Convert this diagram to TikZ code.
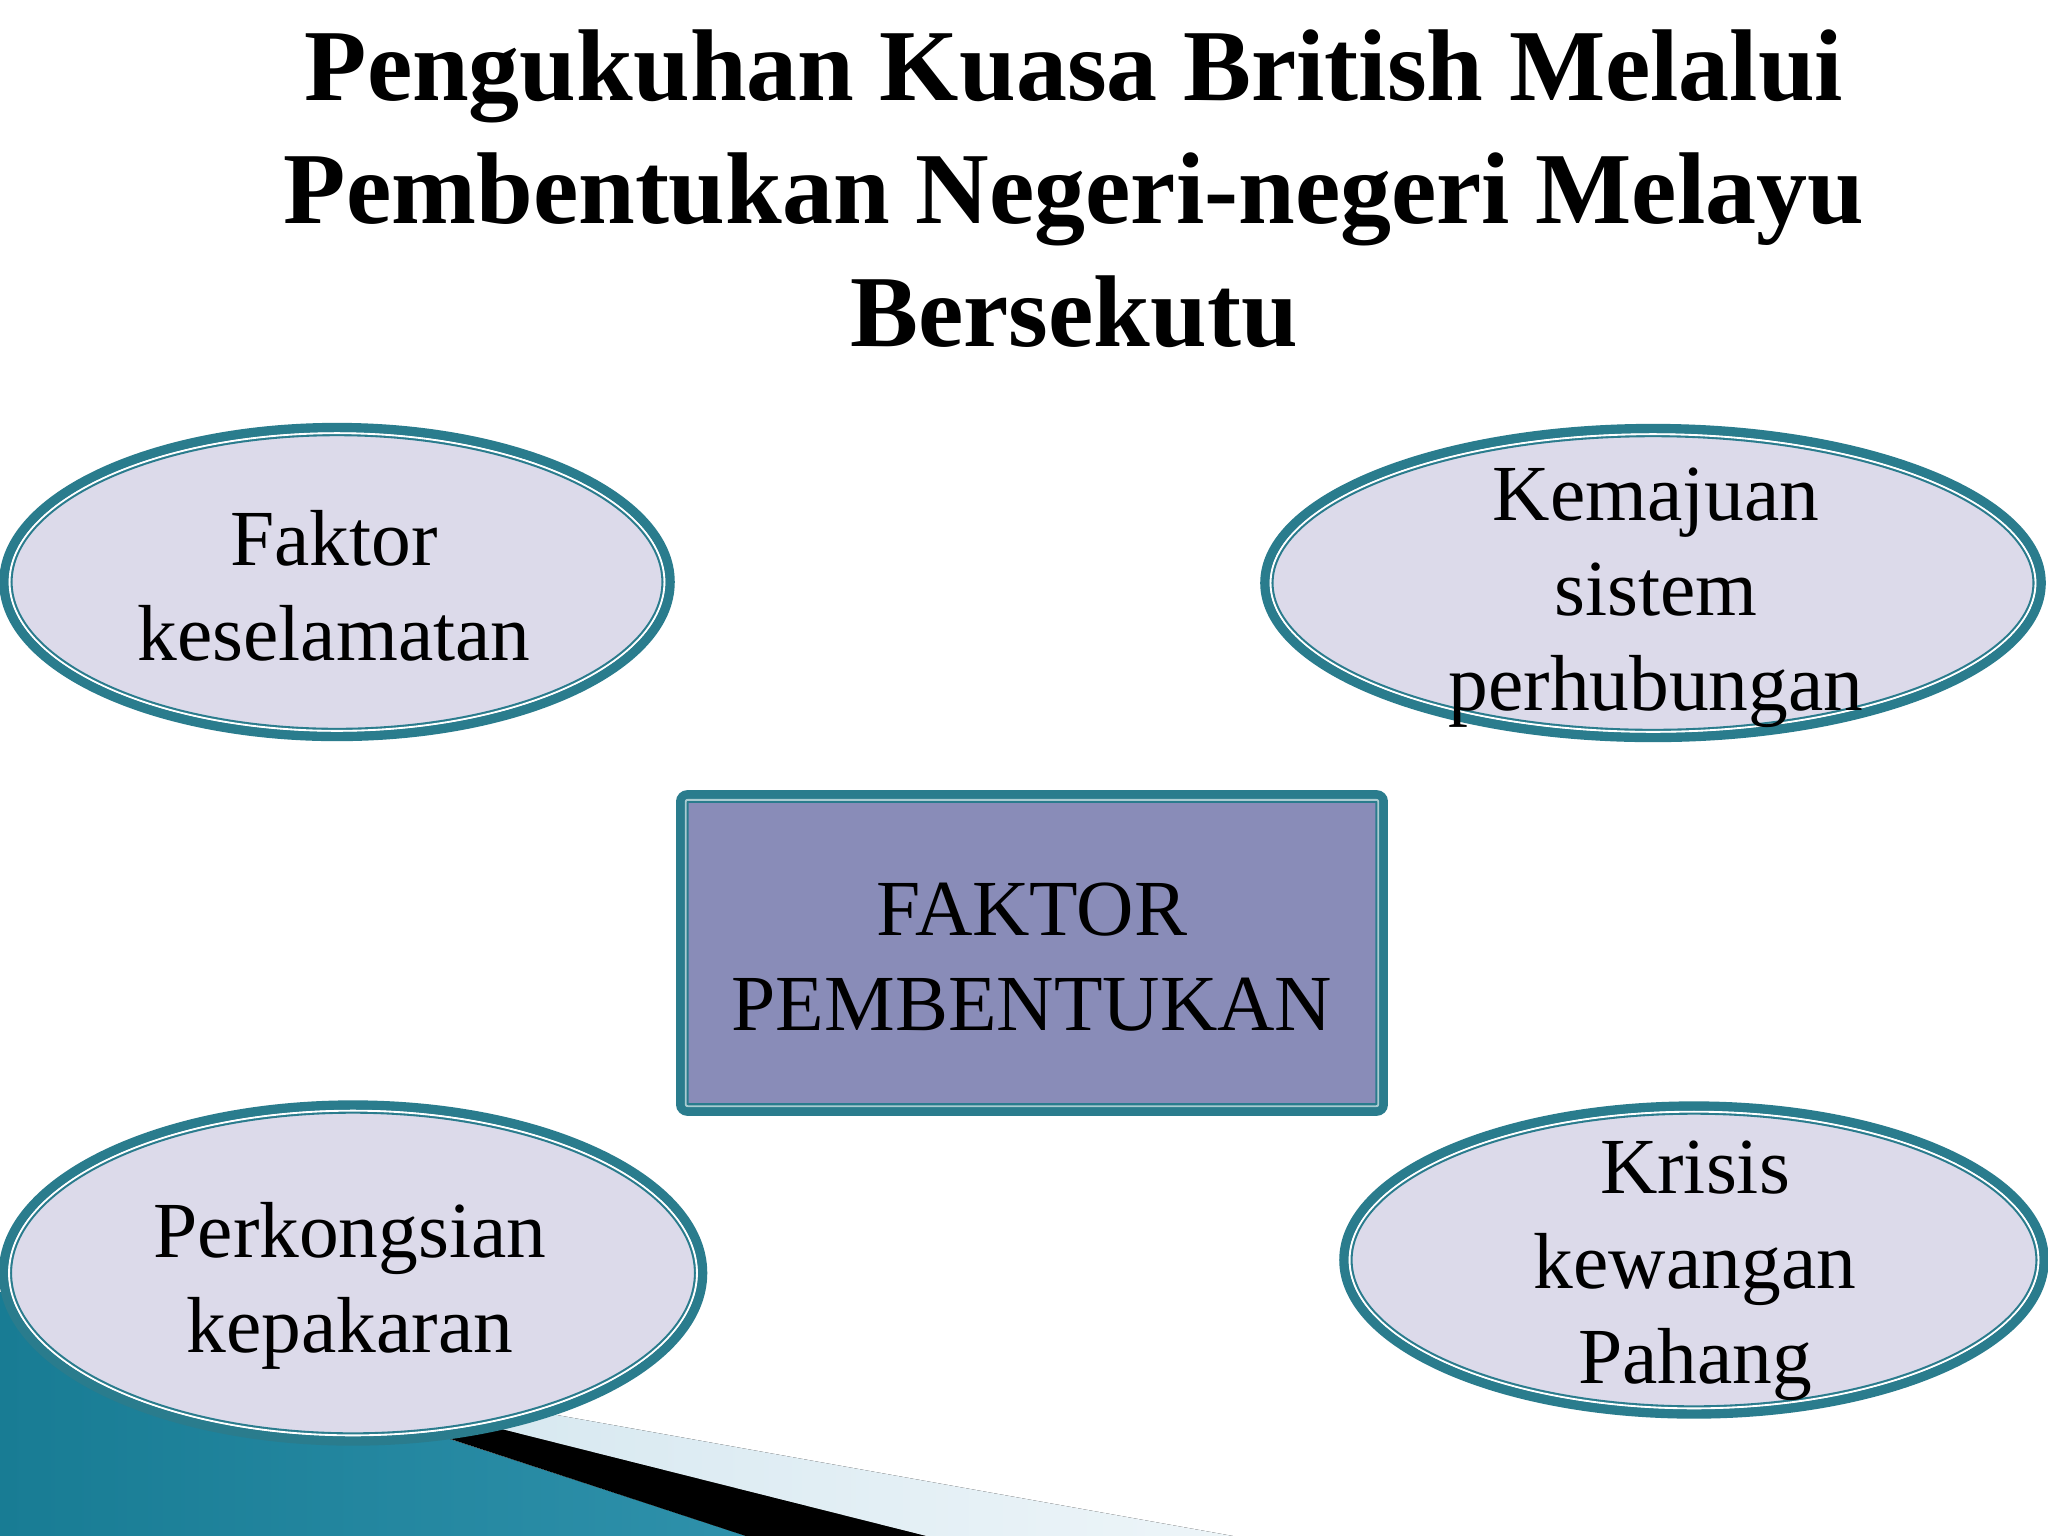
\documentclass[tikz,border=0pt]{standalone}
\usepackage{fontspec}
\setmainfont{Liberation Serif}
\usetikzlibrary{shapes.geometric,calc}

\definecolor{ringteal}{HTML}{2A7C8D}
\definecolor{ringfill}{HTML}{DCDAEA}
\definecolor{boxfill}{HTML}{898CB8}
\definecolor{slidedeep}{HTML}{187C94}
\definecolor{slidesky}{HTML}{62C1E0}
\definecolor{slidepale}{HTML}{D3E6EF}

\tikzset{
    ringbox/.style={ellipse, fill=ringfill, draw=ringteal, line width=2.6pt, inner sep=0pt,
        path picture={
            \foreach \w/\c in {5pt/ringteal, 3.8pt/white, 2.6pt/ringteal}
                \draw[\c, line width=\w] let \p1=($(path picture bounding box.north east)-(path picture bounding box.center)$) in
                    (path picture bounding box.center) ellipse [x radius=\x1, y radius=\y1];
        }},
    framebox/.style={rectangle, rounded corners=2pt, fill=boxfill, draw=ringteal, line width=2.4pt, inner sep=0pt,
        path picture={
            \foreach \w/\c in {4.8pt/ringteal, 3.6pt/ringteal!40, 2.4pt/ringteal}
                \draw[\c, line width=\w] (path picture bounding box.south west) rectangle (path picture bounding box.north east);
        }},
    ringtext/.style={align=center, inner sep=0pt, font=\fontsize{22.6}{27}\selectfont},
    titletext/.style={align=center, inner sep=0pt, font=\bfseries\fontsize{29}{35}\selectfont}
}

\begin{document}
\begin{tikzpicture}[x=0.01cm, y=-0.01cm]
        \useasboundingbox (0,0) rectangle (2048,1536);
        \fill[white] (0,0) rectangle (2048,1536);

        % corner stripes
        \coordinate (T1) at (0,1292);
        \coordinate (T2) at (746,1536);
        \coordinate (B1) at (350,1391);
        \coordinate (B2) at (926,1536);
        \coordinate (B3) at (350,1406);
        \coordinate (L1) at (350,1378);
        \coordinate (L2) at (1233,1536);

        \fill[left color=slidedeep, middle color=slidesky, right color=slidedeep!70!slidesky] (T1) -- (T2) -- (0,1536) -- cycle;
        \fill[left color=slidepale, right color=slidepale!40] (L1) -- (L2) -- (B2) -- (B1) -- cycle;
        \fill[black] (B1) -- (B2) -- (T2) -- (B3) -- cycle;

        \node[titletext] (title) at (1074,189) {Pengukuhan Kuasa British Melalui\\Pembentukan Negeri-negeri Melayu\\Bersekutu};

        \node[ringbox, minimum width=6.66cm, minimum height=3.09cm] (selamat) at (337,582) {};
        \node[ringbox, minimum width=7.76cm, minimum height=3.09cm] (hubung) at (1653,583) {};
        \node[ringbox, minimum width=6.99cm, minimum height=3.36cm] (pakar) at (353,1273) {};
        \node[ringbox, minimum width=7.00cm, minimum height=3.08cm] (krisis) at (1694,1260) {};
        \node[framebox, minimum width=7.03cm, minimum height=3.17cm] (faktor) at (1032,953) {};

        \node[ringtext] (selamatText) at (334,586) {Faktor\\keselamatan};
        \node[ringtext] (hubungText) at (1656,598) {Kemajuan\\sistem\\perhubungan};
        \node[ringtext] (pakarText) at (350,1286) {Perkongsian\\kepakaran};
        \node[ringtext] (krisisText) at (1695,1271) {Krisis\\kewangan\\Pahang};
        \node[ringtext] (faktorText) at (1032,957) {FAKTOR\\PEMBENTUKAN};
\end{tikzpicture}
\end{document}
